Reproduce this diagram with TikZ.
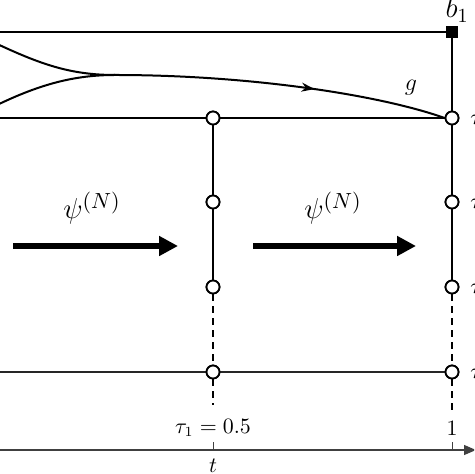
\documentclass[tikz,border=0pt]{standalone}
\usetikzlibrary{arrows.meta,decorations.markings}
\begin{document}
\begin{tikzpicture}[x=0.5pt,y=-0.5pt,
  main/.style={line width=1pt,black},
  thinline/.style={line width=0.75pt,black!85},
  dashline/.style={line width=1pt,black,dash pattern=on 3.5pt off 2.5pt},
  pt/.style={circle,draw,line width=0.9pt,fill=white,inner sep=0pt,minimum size=6.5pt},
  sq/.style={rectangle,fill=black,inner sep=0pt,minimum size=6pt},
  bigarrow/.style={line width=3.2pt,-{Triangle[length=9.5pt,width=9.5pt]}},
  lbl/.style={font=\fontsize{10.5}{12}\selectfont},
  blbl/.style={font=\fontsize{14}{16}\selectfont},
  psilbl/.style={font=\fontsize{15}{17}\selectfont},
  flow/.style={main,decoration={markings,mark=at position 0.6 with {\arrow{Stealth[length=6.5pt,width=4.5pt]}}},postaction={decorate}}
]
\useasboundingbox (0,0) rectangle (474,474);
\clip (0,0) rectangle (474,474);
% coordinates
\coordinate (L32) at (-5,32);
\coordinate (L118) at (-5,118);
\coordinate (L372) at (-5,372);
\coordinate (c0a) at (-5,43);
\coordinate (c0b) at (-5,106);
\coordinate (m) at (115,75);
\coordinate (A0) at (-5,450);
\coordinate (A1) at (476,450);
\coordinate (d1) at (213,405);
\coordinate (d2) at (452,412);
\coordinate (t1a) at (213,442);
\coordinate (t1b) at (213,450);
\coordinate (t2a) at (452,442);
\coordinate (t2b) at (452,450);
% nodes
\node[sq] (b) at (452,32) {};
\node[blbl] (blab) at (457,10) {$b_1$};
\node[pt] (p11) at (213,118) {};
\node[pt] (p12) at (213,202) {};
\node[pt] (p13) at (213,287) {};
\node[pt] (p14) at (213,372) {};
\node[pt] (p21) at (452,118) {};
\node[pt] (p22) at (452,202) {};
\node[pt] (p23) at (452,287) {};
\node[pt] (p24) at (452,372) {};
% lines
\draw[main] (L32) -- (b);
\draw[main] (b) -- (p21);
\draw[main] (L118) -- (p11) -- (p21);
\draw[main] (p11) -- (p12) -- (p13);
\draw[main] (p21) -- (p22) -- (p23);
\draw[dashline] (p13) -- (p14);
\draw[dashline] (p23) -- (p24);
\draw[dashline] (p14) -- (d1);
\draw[dashline] (p24) -- (d2);
\draw[thinline] (L372) -- (p14) -- (p24);
% redraw circles above lines
\node[pt] at (p11) {};\node[pt] at (p12) {};\node[pt] at (p13) {};\node[pt] at (p14) {};
\node[pt] at (p21) {};\node[pt] at (p22) {};\node[pt] at (p23) {};\node[pt] at (p24) {};
% curves
\draw[main] (c0a) .. controls (40,64) and (70,75) .. (m);
\draw[main] (c0b) .. controls (40,84) and (75,75) .. (m);
\draw[flow] (m) .. controls (250,75) and (380,95) .. (p21.west);
\node[lbl,font=\fontsize{12}{14}\selectfont] (g) at (411,88) {$g$};
% psi arrows
\coordinate (a1s) at (13,246);
\coordinate (a1e) at (178,246);
\coordinate (a2s) at (253,246);
\coordinate (a2e) at (416,246);
\draw[bigarrow] (a1s) -- (a1e);
\draw[bigarrow] (a2s) -- (a2e);
\node[psilbl] (psi1) at (92,208) {$\psi^{(N)}$};
\node[psilbl] (psi2) at (333,208) {$\psi^{(N)}$};
% axis
\draw[line width=0.6pt,black!75,-{Triangle[length=6pt,width=5pt]}] (A0) -- (A1);
\draw[line width=0.5pt,black!75] (t1a) -- (t1b);
\draw[line width=0.5pt,black!75] (t2a) -- (t2b);
\node[lbl] (tau) at (213,428) {$\tau_1 = 0.5$};
\node[lbl] (one) at (452,428) {$1$};
\node[lbl] (t) at (213,466) {$t$};
% cut-off right labels
\node[lbl,anchor=west,inner sep=0pt] at (470,120) {$\tau$};
\node[lbl,anchor=west,inner sep=0pt] at (470,204) {$\tau$};
\node[lbl,anchor=west,inner sep=0pt] at (470,289) {$\tau$};
\node[lbl,anchor=west,inner sep=0pt] at (470,374) {$\tau$};
\end{tikzpicture}
\end{document}
